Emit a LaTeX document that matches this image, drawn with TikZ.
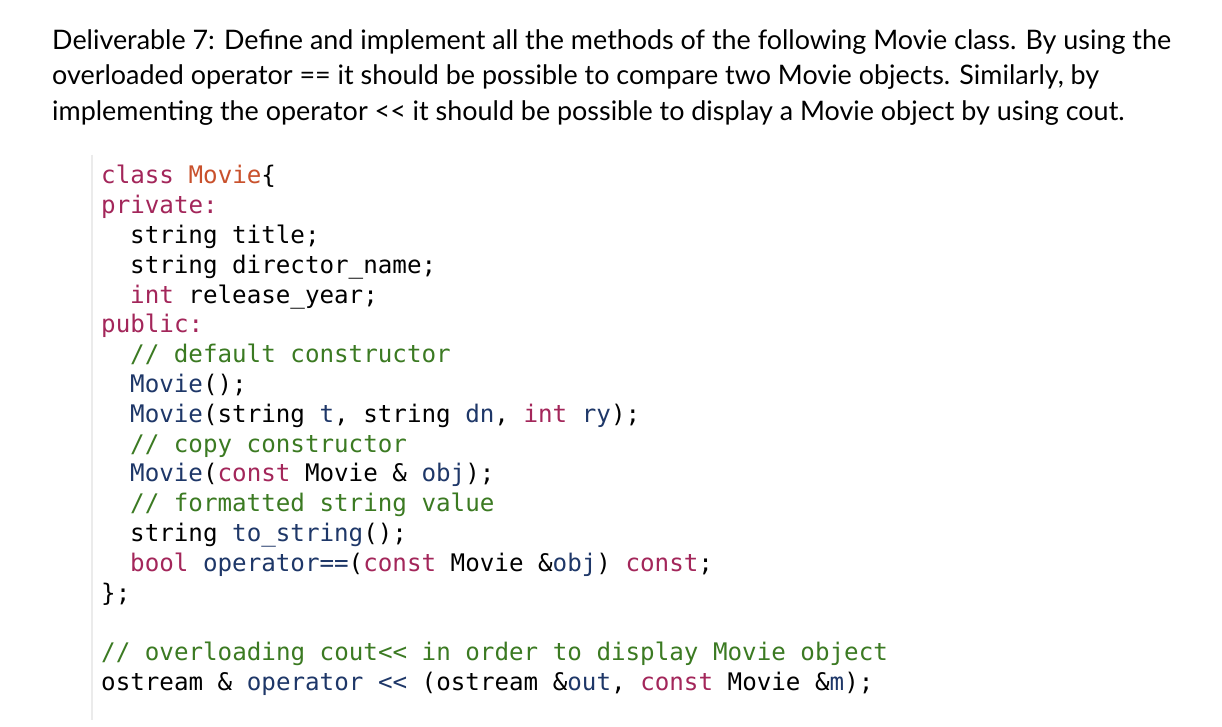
\documentclass[tikz,border=0pt]{standalone}
\usepackage{fontspec}
\setmainfont{Lato}
\setmonofont{DejaVu Sans Mono}
\definecolor{kwc}{HTML}{A3265A}
\definecolor{clc}{HTML}{C9512C}
\definecolor{idc}{HTML}{1E3768}
\definecolor{cmc}{HTML}{3B7A22}
\newcommand{\kw}[1]{\textcolor{kwc}{#1}}
\newcommand{\cl}[1]{\textcolor{clc}{#1}}
\newcommand{\idn}[1]{\textcolor{idc}{#1}}
\newcommand{\cmt}[1]{\textcolor{cmc}{#1}}
\tikzset{code/.style={anchor=base west,inner sep=0pt,font=\fontsize{24.2}{24.2}\ttfamily},
 para/.style={anchor=base west,inner sep=0pt,font=\fontsize{26.9}{26.9}\selectfont}}
\begin{document}
\begin{tikzpicture}[x=1pt,y=1pt]
\useasboundingbox (0,0) rectangle (1222,727);
\fill[white] (0,0) rectangle (1222,727);
\draw[black!8,line width=1.2pt] (92,572) -- (92,7);
\node[para] (p1) at (52,677) {Deliverable 7: Define and implement all the methods of the following Movie class. By using the};
\node[para] (p2) at (52,642) {overloaded operator == it should be possible to compare two Movie objects. Similarly, by};
\node[para] (p3) at (52,606) {implementing the operator <{}< it should be possible to display a Movie object by using cout.};
\def\yy#1{543-29.8*#1}
\node[code] (l0) at (101,{\yy{0}}) {\kw{class} \cl{Movie}\{};
\node[code] (l1) at (101,{\yy{1}}) {\kw{private:}};
\node[code] (l2) at (130,{\yy{2}}) {string title;};
\node[code] (l3) at (130,{\yy{3}}) {string director\_name;};
\node[code] (l4) at (130,{\yy{4}}) {\kw{int} release\_year;};
\node[code] (l5) at (101,{\yy{5}}) {\kw{public:}};
\node[code] (l6) at (130,{\yy{6}}) {\cmt{// default constructor}};
\node[code] (l7) at (130,{\yy{7}}) {\idn{Movie}();};
\node[code] (l8) at (130,{\yy{8}}) {\idn{Movie}(string \idn{t}, string \idn{dn}, \kw{int} \idn{ry});};
\node[code] (l9) at (130,{\yy{9}}) {\cmt{// copy constructor}};
\node[code] (l10) at (130,{\yy{10}}) {\idn{Movie}(\kw{const} Movie \& \idn{obj});};
\node[code] (l11) at (130,{\yy{11}}) {\cmt{// formatted string value}};
\node[code] (l12) at (130,{\yy{12}}) {string \idn{to\_string}();};
\node[code] (l13) at (130,{\yy{13}}) {\kw{bool} \idn{operator==}(\kw{const} Movie \&\idn{obj}) \kw{const};};
\node[code] (l14) at (101,{\yy{14}}) {\};};
\node[code] (l16) at (101,{\yy{16}}) {\cmt{// overloading cout<{}< in order to display Movie object}};
\node[code] (l17) at (101,{\yy{17}}) {ostream \& \idn{operator} \idn{<{}<} (ostream \&\idn{out}, \kw{const} Movie \&\idn{m});};
\end{tikzpicture}
\end{document}
